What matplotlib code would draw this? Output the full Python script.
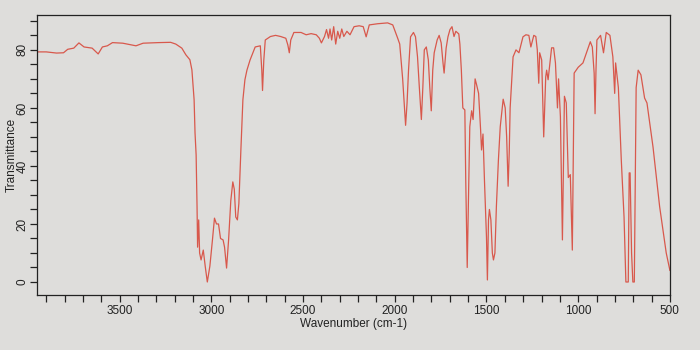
"""IR spectrum (transmittance vs wavenumber) redrawn from a photographed printout."""

import matplotlib

matplotlib.use("Agg")
import matplotlib.pyplot as plt
from matplotlib.ticker import MultipleLocator

plt.rcParams["font.family"] = ["Liberation Sans", "DejaVu Sans"]

# Spectrum, high -> low wavenumber.
wavenumber = [
    3944, 3900, 3844, 3806, 3783, 3750, 3722, 3694, 3650, 3617, 3594, 3567,
    3539, 3483, 3411, 3372, 3289, 3222, 3194, 3161, 3139, 3117, 3106, 3094,
    3089, 3083, 3078, 3075, 3069, 3064, 3056, 3044, 3033, 3022, 3008, 2994,
    2983, 2972, 2961, 2950, 2936, 2928, 2917, 2906, 2894, 2883, 2875, 2867,
    2858, 2850, 2839, 2828, 2817, 2806, 2789, 2761, 2733, 2725, 2721, 2714,
    2706, 2678, 2650, 2622, 2594, 2583, 2575, 2567, 2550, 2511, 2483, 2456,
    2428, 2411, 2400, 2383, 2372, 2361, 2353, 2344, 2333, 2322, 2311, 2300,
    2289, 2278, 2261, 2244, 2222, 2194, 2172, 2156, 2139, 2094, 2039, 2011,
    1984, 1973, 1957, 1941, 1933, 1925, 1914, 1898, 1887, 1876, 1866, 1855,
    1847, 1839, 1828, 1817, 1809, 1801, 1793, 1785, 1769, 1758, 1747, 1737,
    1731, 1720, 1710, 1699, 1688, 1677, 1667, 1651, 1645, 1637, 1629, 1618,
    1613, 1605, 1597, 1591, 1581, 1573, 1562, 1554, 1543, 1532, 1527, 1519,
    1511, 1500, 1495, 1489, 1484, 1476, 1468, 1462, 1454, 1446, 1435, 1425,
    1409, 1398, 1390, 1382, 1376, 1371, 1355, 1339, 1323, 1301, 1285, 1269,
    1258, 1242, 1231, 1223, 1215, 1210, 1199, 1188, 1177, 1172, 1164, 1145,
    1134, 1124, 1113, 1107, 1097, 1086, 1075, 1065, 1054, 1043, 1032, 1022,
    1000, 974, 949, 934, 923, 913, 908, 903, 898, 878, 867, 862,
    847, 827, 811, 801, 796, 781, 765, 750, 740, 727, 722, 717,
    709, 702, 694, 689, 684, 673, 658, 638, 625, 592, 556, 520,
    500,
]
transmittance = [
    79.3, 79.3, 78.9, 79.0, 80.2, 80.6, 82.4, 81.0, 80.6, 78.6, 81.0, 81.4,
    82.5, 82.3, 81.4, 82.3, 82.5, 82.6, 82.0, 80.6, 78.3, 76.6, 73.1, 62.8,
    51.4, 43.8, 26.0, 12.0, 21.4, 10.0, 7.6, 11.0, 5.2, 0.0, 5.5, 14.5,
    22.0, 20.0, 20.0, 15.0, 14.5, 12.0, 4.8, 14.5, 28.0, 34.5, 32.0, 22.4,
    21.4, 27.0, 45.5, 62.8, 69.7, 73.0, 76.5, 81.0, 81.4, 73.0, 66.0, 76.5,
    83.4, 84.6, 85.0, 84.6, 84.0, 81.7, 79.0, 83.4, 86.0, 86.0, 85.2, 85.6,
    85.2, 84.0, 82.4, 84.6, 87.0, 84.0, 87.2, 83.4, 88.0, 82.0, 86.4, 84.0,
    87.2, 84.6, 86.4, 85.2, 88.0, 88.3, 88.0, 84.5, 88.6, 89.0, 89.3, 88.6,
    84.0, 82.0, 70.0, 54.0, 61.7, 73.0, 84.5, 86.0, 84.5, 77.6, 67.0, 56.0,
    67.0, 80.0, 81.0, 76.5, 67.0, 59.0, 73.0, 79.0, 83.4, 85.0, 82.4, 75.5,
    72.0, 80.6, 84.5, 87.0, 88.0, 84.6, 86.4, 85.5, 82.0, 73.0, 60.0, 59.3,
    35.0, 5.0, 32.8, 53.5, 59.0, 56.0, 70.0, 68.0, 65.0, 52.4, 45.5, 51.0,
    35.0, 15.5, 0.7, 21.4, 25.0, 21.4, 10.0, 7.6, 10.0, 26.0, 42.0, 53.5,
    63.0, 60.0, 50.0, 33.0, 44.5, 60.0, 77.6, 80.0, 79.0, 84.5, 85.2, 85.0,
    81.0, 85.0, 84.6, 80.0, 68.5, 79.0, 76.5, 50.0, 70.7, 73.0, 69.7, 80.7,
    80.7, 75.5, 60.0, 70.0, 57.0, 14.5, 64.0, 61.7, 36.0, 37.0, 11.0, 72.0,
    74.0, 75.5, 80.0, 82.8, 81.0, 72.0, 58.0, 73.0, 83.4, 85.0, 81.0, 79.0,
    86.0, 85.0, 77.6, 65.0, 75.5, 67.0, 42.0, 22.4, 0.0, 0.0, 37.6, 37.6,
    10.0, 0.0, 0.0, 33.0, 67.0, 73.0, 71.4, 63.4, 61.7, 46.5, 26.0, 10.0,
    4.0,
]

x_ticks = [3500, 3000, 2500, 2000, 1500, 1000, 500]
y_ticks = [0, 20, 40, 60, 80]

PAPER = "#dedddb"
TRACE = "#d8584c"


def main() -> None:
    fig = plt.figure(figsize=(7, 3.5), dpi=100, facecolor=PAPER)
    ax = fig.add_axes([0.053, 0.157, 0.904, 0.8], facecolor=PAPER)

    ax.plot(wavenumber, transmittance, color=TRACE, lw=0.9)

    ax.set_xlim(3950, 500)
    ax.set_ylim(-4.5, 92)

    ax.set_xticks(x_ticks)
    ax.set_xticklabels([str(v) for v in x_ticks])
    ax.xaxis.set_minor_locator(MultipleLocator(100))
    ax.set_yticks(y_ticks)
    ax.set_yticklabels([str(v) for v in y_ticks])
    ax.yaxis.set_minor_locator(MultipleLocator(5))

    ax.tick_params(axis="both", which="both", direction="out", length=5,
                   width=0.9, color="#222222", labelsize=8.5, labelcolor="#222222")
    ax.tick_params(axis="y", which="major", labelrotation=90, pad=1)
    for lab in ax.get_yticklabels():
        lab.set_va("center")
    ax.tick_params(axis="x", which="major", pad=2)

    for sp in ax.spines.values():
        sp.set_color("#222222")
        sp.set_linewidth(0.9)

    ax.set_xlabel("Wavenumber (cm-1)", fontsize=8.5, color="#222222", labelpad=1)
    ax.set_ylabel("Transmittance", fontsize=8.5, color="#222222")
    ax.yaxis.set_label_coords(-0.03, 0.5)

    fig.savefig("out.png", dpi=100, facecolor=PAPER)
    plt.close(fig)


if __name__ == "__main__":
    main()
